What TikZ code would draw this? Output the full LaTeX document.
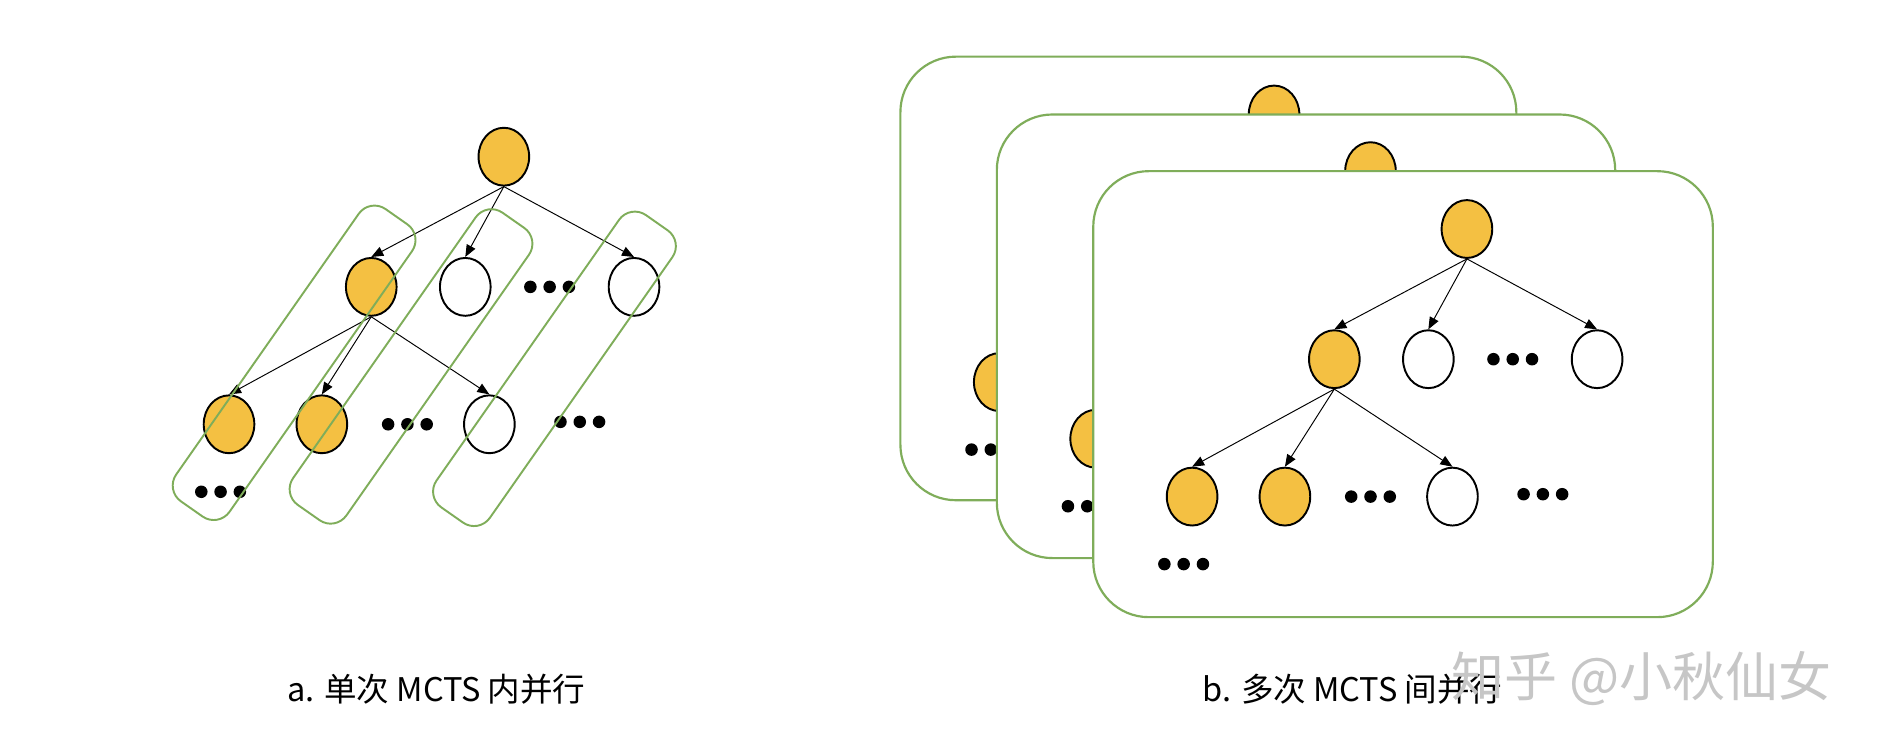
\documentclass[tikz,border=0pt]{standalone}
\usepackage{fontspec}
\setmainfont{Noto Sans CJK SC}
\usetikzlibrary{shapes.geometric,arrows.meta}
\definecolor{org}{HTML}{F4C042}
\definecolor{grn}{HTML}{7FAD5A}
\tikzset{
  on/.style={ellipse,draw=black,line width=0.8pt,fill=org,minimum width=21pt,minimum height=24pt,inner sep=0pt},
  wn/.style={ellipse,draw=black,line width=0.8pt,fill=white,minimum width=21pt,minimum height=24pt,inner sep=0pt},
  ar/.style={-{Triangle[length=5pt,width=4pt]},line width=0.4pt},
  grp/.style={draw=grn,line width=0.8pt,rounded corners=8pt,minimum width=148pt,minimum height=27pt,rotate=55},
  card/.style={draw=grn,line width=0.9pt,fill=white,rounded corners=23pt},
  lab/.style={font=\fontsize{13.5}{15}\selectfont}
}
\newcommand{\dotsrow}[2]{\fill (#1-16,#2) circle (2.6pt) (#1,#2) circle (2.6pt) (#1+16,#2) circle (2.6pt);}
\newcommand{\mytree}[3]{%
 \begin{scope}[shift={(#2,#3)}]
  \node[on] (#1r) at (0,0) {};
  \node[on] (#1a) at (-110,108) {};
  \node[wn] (#1b) at (-32,108) {};
  \node[wn] (#1c) at (108,108) {};
  \node[on] (#1d) at (-228,222) {};
  \node[on] (#1e) at (-151,222) {};
  \node[wn] (#1f) at (-12,222) {};
  \dotsrow{38}{108}
  \dotsrow{-80}{222}
  \dotsrow{63}{220}
  \dotsrow{-235}{278}
  \draw[ar] (#1r.south) -- (#1a.north);
  \draw[ar] (#1r.south) -- (#1b.north);
  \draw[ar] (#1r.south) -- (#1c.north);
  \draw[ar] (#1a.south) -- (#1d.north);
  \draw[ar] (#1a.south) -- (#1e.north);
  \draw[ar] (#1a.south) -- (#1f.north);
 \end{scope}}
\begin{document}
\begin{tikzpicture}[x=0.5pt,y=-0.5pt]
\useasboundingbox (0,0) rectangle (1568,626);
% left tree
\mytree{L}{418}{130}
\node[grp] (g1) at (244,301) {};
\node[grp] (g2) at (341,304) {};
\node[grp] (g3) at (460,306) {};
% right cards
\draw[card] (747,47) rectangle (1258,415);
\mytree{A}{1057}{95}
\draw[card] (827,95) rectangle (1340,463);
\mytree{B}{1137}{142}
\draw[card] (907,142) rectangle (1421,512);
\mytree{C}{1217}{190}
\node[lab] (la) at (362,572) {a. 单次 MCTS 内并行};
\node[lab] (lb) at (1122,572) {b. 多次 MCTS 间并行};
\node[font=\fontsize{22}{24}\selectfont,text=gray!45] (wm) at (1362,563) {知乎 @小秋仙女};
\end{tikzpicture}
\end{document}
